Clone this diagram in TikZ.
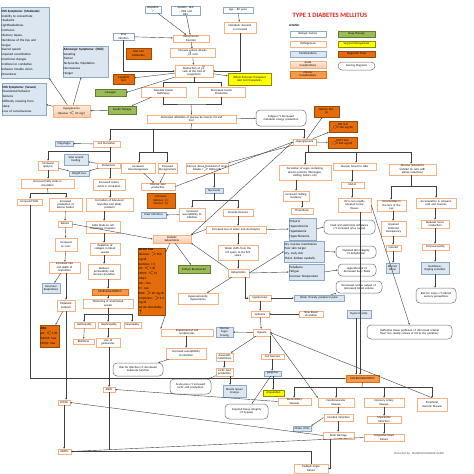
\documentclass[tikz,border=0pt]{standalone}
\usepackage{fontspec}
\setmainfont{Carlito}
\usetikzlibrary{arrows.meta,calc}
\definecolor{biob}{HTML}{8EA9C8}
\definecolor{pathob}{HTML}{F4B183}
\definecolor{manb}{HTML}{8EA9C8}
\definecolor{manf}{HTML}{DCE6F1}
\definecolor{acuteb}{HTML}{F4B183}
\definecolor{acutet}{HTML}{FDEBDD}
\definecolor{acutebt}{HTML}{F9C9A5}
\definecolor{chrb}{HTML}{E46C0A}
\definecolor{chrf}{HTML}{F59A4C}
\definecolor{diagb}{HTML}{9C4A08}
\definecolor{diagf}{HTML}{E46C0A}
\definecolor{drugb}{HTML}{5F7F2E}
\definecolor{drugf}{HTML}{9BBB59}
\definecolor{surgb}{HTML}{8C8C00}
\definecolor{surgf}{HTML}{FFFF00}
\definecolor{nurb}{HTML}{707070}
\definecolor{linec}{HTML}{404040}
\definecolor{titlec}{HTML}{E0201B}
\newcommand\fs{\fontsize{2.9}{3.35}\selectfont}
\newcommand\fl{\fontsize{3.2}{4.85}\selectfont}
\newcommand{\bx}[7]{%
 \pgfmathsetmacro\bxh{#6-#4}%
 \pgfmathsetmacro\bxcx{(#3+#5)/2}%
 \pgfmathsetmacro\bxcy{(#4+#6)/2}%
 \pgfmathsetmacro\bxtw{max(#5-#3-1.2,1)}%
 \node[#1, text width=\bxtw pt, minimum height=\bxh pt] (#2) at (\bxcx,\bxcy) {#7};}
\tikzset{
 base/.style={draw, line width=0.5pt, inner xsep=0.6pt, inner ysep=0.3pt, font=\fs, align=center, text=black},
 bio/.style={base, draw=biob, fill=white},
 patho/.style={base, draw=pathob, fill=white},
 manif/.style={base, draw=manb, fill=manf},
 acute/.style={base, draw=acuteb, top color=acutet, bottom color=acutebt},
 chronic/.style={base, draw=chrb, fill=chrf},
 diag/.style={base, draw=diagb, fill=diagf},
 drug/.style={base, draw=drugb, fill=drugf},
 surg/.style={base, draw=surgb, fill=surgf},
 nurse/.style={base, draw=nurb, fill=white, rounded corners=4pt},
 lst/.style={align=left, font=\fl},
 arr/.style={-{Stealth[length=1.8pt,width=1.5pt]}, line width=0.4pt, draw=linec},
 ln/.style={line width=0.4pt, draw=linec},
}
\begin{document}
\begin{tikzpicture}[x=1pt,y=-1pt]
\useasboundingbox[fill=white] (0,0) rectangle (474,474);
% ---------- title & legend
\node[font=\fontsize{6.6}{7}\selectfont\bfseries, text=titlec, inner sep=0] (title) at (330,15) {TYPE 1 DIABETES MELLITUS};
\node[font=\fs\bfseries, anchor=west, inner sep=0] (legend) at (289,26) {LEGEND:};
\bx{bio}{lg1}{290}{31}{326}{37}{Biologic Factors}
\bx{patho}{lg2}{290}{41}{326}{47}{Pathogenesis}
\bx{manif}{lg3}{290}{51}{326}{57}{Manifestations}
\bx{acute}{lg4}{290}{61}{326}{68}{Acute\\Complications}
\bx{chronic}{lg5}{290}{71}{326}{78}{Chronic\\Complications}
\bx{drug}{lg6}{338}{31}{375}{37}{Drug Therapy}
\bx{surg}{lg7}{338}{41}{375}{47}{Surgical Management}
\bx{diag}{lg8}{338}{51}{375}{57}{Diagnostic Tests}
\bx{nurse}{lg9}{338}{62}{375}{70}{Nursing Diagnosis}
% ---------- top
\bx{bio}{idio}{145}{6}{161}{13}{Idiopathic\\?}
\bx{bio}{genetic}{171}{7}{200}{15}{Genetic: HLA -- DR3 and\\DR4}
\bx{bio}{age}{223}{7}{253}{13}{Age -- 80 years}
\bx{bio}{viral}{113}{33}{134}{40}{Viral\\infection}
\bx{patho}{metab}{224}{22}{256}{33}{Metabolic demand\\is increased}
\bx{patho}{autoimm}{173}{35}{209}{42}{Autoimmune\\Disorder}
\bx{diag}{ica}{126}{48}{151}{59}{Islet Cell\\Antibodies}
\bx{patho}{immune}{170}{49}{215}{57}{Immune system attacks\\$\beta$ cells}
\bx{patho}{destr}{175}{65}{213}{77}{Destruction of $\beta$\\cells of the islet of\\Langerhans}
\bx{diag}{cpep}{113}{74}{134}{84}{C-peptide\\test}
\bx{surg}{transpl}{228}{73}{271}{85}{Whole Pancreas Transplant\\Islet Cell Transplants}
\bx{drug}{glucag}{95}{89}{126}{96}{Glucagon}
\bx{drug}{insulin}{108}{106}{136}{114}{Insulin Therapy}
\bx{patho}{absol}{141}{87}{186}{97}{Absolute Insulin\\Deficiency}
\bx{patho}{decins}{198}{87}{245}{97}{Decreased Insulin\\Production}
\bx{patho}{decutil}{147}{115}{236}{123}{Decreased utilization of glucose by muscle, fat and\\liver}
\bx{nurse}{fatigue}{256}{110}{306}{126}{Fatigue r/t decreased\\metabolic energy production}
% ---------- hypoglycemia
\bx{manif,lst}{cnsmod}{1}{7}{49}{78}{\textbf{CNS Symptoms: (Moderate)}\\Inability to concentrate\\Headache\\Lightheadedness\\Confusion\\Memory lapses,\\Numbness of the lips and\\tongue\\Slurred speech\\Impaired coordination\\Emotional changes\\Irrational or combative\\behavior, Double vision\\Drowsiness}
\bx{manif,lst}{adren}{63}{46}{108}{77}{\textbf{Adrenergic Symptoms: (Mild)}\\Sweating\\Tremor\\Tachycardia, Palpitation\\Nervousness\\Hunger}
\bx{manif,lst}{cnssev}{2}{83}{46}{115}{\textbf{CNS Symptoms: (Severe)}\\Disoriented behavior\\Seizures\\Difficulty arousing from\\sleep\\Loss of consciousness}
\bx{acute}{hypo}{53}{105}{90}{117}{Hypoglycemia\\(Glucose $<$ 60 mg/)}
% ---------- hyperglycemia & tests
\bx{patho}{hyperg}{293}{139}{316}{145}{Hyperglycemia}
\bx{diag}{ketone}{314}{106}{339}{117}{Ketone Test\\(+)}
\bx{diag}{fbs}{329}{121}{357}{132}{FBS Test\\($>$126 mg/dl)}
\bx{diag}{ogtt}{328}{137}{357}{148}{OGTT Test\\($>$200 mg/dl)}
% ---------- left column
\bx{patho}{cellstarv}{93}{141}{120}{147}{Cell Starvation}
\bx{manif}{polyph}{55}{141}{73}{146}{Polyphagia}
\bx{manif}{slowwound}{64}{154}{88}{165}{Slow wound\\healing}
\bx{patho}{lipol}{38}{161}{58}{170}{Increased\\lipolysis}
\bx{manif}{wtloss}{69}{171}{89}{176}{Weight loss}
\bx{patho}{proteol}{97}{163}{120}{168}{Proteolysis}
\bx{patho}{fatty}{21}{179}{74}{188}{Increased Fatty Acids in\\circulation}
\bx{patho}{amino}{93}{179}{125}{190}{Increased Amino\\Acids in circulation}
\bx{patho}{vldl}{17}{199}{42}{205}{Increased VLDL}
\bx{patho}{ketprod}{49}{198}{82}{211}{Increased\\production of\\ketone bodies}
\bx{patho}{agef}{86}{198}{133}{211}{Formation of Advanced\\Glycation End (AGE)\\products}
\bx{patho}{ketosis}{58}{221}{72}{227}{Ketosis}
\bx{patho}{hplus}{55}{238}{77}{251}{Increased\\H+ ions}
\bx{patho}{resp}{49}{262}{80}{273}{Increased rate\\and depth of\\respiration}
\bx{manif}{kussmaul}{42}{283}{60}{293}{Kussmaul\\Respirations}
\bx{patho}{metacid}{57}{300}{75}{311}{Metabolic\\Acidosis}
\bx{diag,lst}{abg}{40}{325}{59}{347}{\textbf{ABG}\\pH: $<$7.35\\PaCO2: low\\HCO3: low}
\bx{patho}{agebind}{86}{221}{120}{233}{AGEs binds to cell\\membrane receptors}
\bx{patho}{collagen}{90}{243}{120}{255}{Depletion of\\collagen in blood\\vessels}
\bx{patho}{perm}{88}{264}{120}{279}{Reduces\\permeability and\\normal circulation}
\bx{chronic}{micro}{92}{289}{128}{295}{MICROANGIOPATHY}
\bx{patho}{thick}{83}{299}{133}{308}{Thickening of small blood\\vessels}
\bx{patho}{retino}{74}{322}{95}{328}{Retinopathy}
\bx{patho}{nephro}{98}{322}{120}{328}{Nephropathy}
\bx{patho}{neuro}{124}{322}{141}{328}{Neuropathy}
\bx{patho}{blind}{73}{339}{94}{344}{Blindness}
\bx{patho}{glom}{96}{338}{120}{347}{Loss of\\glomerulus}
\bx{patho}{esrd}{103}{387}{115}{392}{ESRD}
\bx{patho}{coma}{58}{400}{70}{405}{COMA}
\bx{patho}{death}{58}{449}{71}{454}{DEATH}
% ---------- centre
\bx{patho}{gluconeo}{121}{163}{155}{173}{Increased\\Gluconeogenesis}
\bx{patho}{glycogen}{158}{163}{177}{173}{Increased\\Glycogenolysis}
\bx{patho}{overprod}{141}{183}{175}{190}{Glucose over\\production}
\bx{patho}{threshold}{186}{163}{228}{173}{Glucose above threshold of renal\\tubules ($>$180mg/dl)}
\bx{diag}{urin}{147}{193}{175}{208}{Urinalysis:\\Ketones: (+)\\Glucose: (+)}
\bx{manif}{glycosuria}{205}{188}{223}{193}{Glycosuria}
\bx{patho}{suscept1}{179}{208}{205}{221}{Increased\\susceptibility to\\infection}
\bx{manif}{yeast}{141}{212}{166}{218}{Yeast Infections}
\bx{patho}{osmotic}{223}{209}{253}{216}{Osmotic Diuresis}
\bx{patho}{waterloss}{206}{226}{266}{233}{Increased loss of water and electrolytes}
\bx{acute}{dka}{153}{235}{191}{243}{Diabetic\\ketoacidosis}
\bx{patho}{watershift}{218}{245}{258}{260}{Water shifts from the\\ICF space to the ECF\\space}
\bx{patho}{dehyd}{228}{269}{249}{277}{Dehydration}
\bx{diag,lst}{serum}{138}{255}{165}{308}{\textbf{Serum Test}\\Glucose: $>$250 mg/dl\\Ketones: (+)\\pH: $<$7.30\\HCO3: $<$15 mEq/L\\Na+: low\\K+: low\\BUN: $>$20 mg/dl\\Creatinine: $>$1.5 mg/dl\\Serum Osmolality: $\uparrow$}
\bx{drug}{nahco}{178}{265}{210}{273}{Sodium Bicarbonate}
\bx{patho}{hyperosm}{178}{293}{218}{304}{Hyperosmolarity\\Hypovolemia}
\bx{patho}{hypotens}{249}{295}{271}{301}{Hypotension}
\bx{patho}{ischemia}{251}{311}{269}{317}{Ischemia}
\bx{patho}{impair}{161}{329}{213}{336}{Impairment of cell\\lymphocytes}
\bx{patho}{suscept2}{166}{348}{206}{359}{Increased susceptibility\\to infection}
\bx{nurse}{riskinf}{113}{363}{163}{376}{Risk for infection r/t decreased\\leukocyte function}
\bx{manif}{sugar}{216}{328}{233}{336}{Glucose\\Sugar Craving}
\bx{patho}{anaer}{216}{353}{233}{361}{Anaerobic\\metabolism}
\bx{patho}{lactic}{216}{368}{233}{376}{Lactic Acid\\production}
\bx{nurse}{pain}{170}{379}{211}{394}{Acute pain r/t increased\\lactic acid production}
\bx{manif}{cramps}{223}{385}{246}{397}{Muscle Spasm\\Cramps}
\bx{nurse}{tissue}{225}{404}{268}{419}{Impaired tissue integrity\\r/t hypoxia}
\bx{patho}{hypoxia}{253}{329}{270}{336}{Hypoxia}
\bx{patho}{necrosis}{261}{354}{284}{359}{Cell Necrosis}
\bx{manif}{gangrene}{264}{371}{281}{376}{gangrene}
\bx{surg}{amput}{263}{390}{284}{396}{Amputation}
% ---------- right
\bx{patho}{plasma}{279}{165}{331}{180}{Formation of sugar containing\\plasma proteins (fibrinogen,\\clotting factors, etc)}
\bx{patho}{hba}{333}{163}{376}{170}{Glucose bound to HbA}
\bx{patho}{hbaic}{341}{182}{364}{188}{HbA1c}
\bx{patho}{otwo}{338}{198}{371}{212}{O2 is less readily\\released to the\\tissues}
\bx{patho}{sorbitol}{389}{164}{436}{175}{Glucose reduced to\\Sorbitol (in cells with\\aldose reductase)}
\bx{patho}{lens}{377}{200}{406}{211}{Accumulates in\\the lens of the\\eye}
\bx{patho}{schwann}{416}{198}{456}{208}{Accumulation in schwann\\cells and neurons}
\bx{patho}{lenticular}{381}{221}{406}{236}{Impaired\\lenticular\\transparency}
\bx{patho}{cataract}{386}{245}{401}{251}{Cataract}
\bx{manif}{blurred}{386}{263}{399}{273}{Blurred\\Vision}
\bx{patho}{nerve}{421}{220}{449}{228}{Reduced nerve\\conduction}
\bx{patho}{polyneuro}{422}{244}{449}{250}{Polyneuropathy}
\bx{manif}{numb}{421}{262}{449}{274}{Numbness,\\tingling sensation}
\bx{nurse}{injury}{416}{288}{456}{303}{Risk for injury r/t altered\\sensory perceptions}
\bx{patho}{clotting}{283}{191}{309}{201}{Increased clotting\\tendency}
\bx{patho}{thromb}{291}{208}{313}{214}{Thrombosis}
\bx{manif,lst}{mfa}{289}{218}{316}{240}{Polyuria\\Hyponatremia\\Hypokalemia\\Hypochloremia}
\bx{manif,lst}{mfb}{284}{241}{324}{262}{Dry mucous membranes\\Poor skin turgor\\Dry, scaly skin\\Thirst, Sunken eyeballs}
\bx{manif,lst}{mfc}{289}{264}{324}{280}{Polydipsia\\Fatigue\\Increase Temperature}
\bx{nurse}{fluidnd}{324}{220}{375}{234}{Fluid and electrolyte imbalance\\r/t increased urine output}
\bx{nurse}{skinnd}{336}{246}{376}{258}{Impaired skin integrity\\r/t dehydration}
\bx{nurse}{thermnd}{338}{264}{376}{276}{Hyperthermia r/t\\decreased body fluids}
\bx{nurse}{cardnd}{336}{281}{382}{293}{Decreased cardiac output r/t\\decreased blood volume}
\bx{manif}{pulse}{294}{295}{344}{301}{Weak, thready peripheral pulse}
\bx{patho}{slowblood}{299}{311}{323}{317}{Slow blood circulation}
\bx{manif}{hypervis}{347}{310}{371}{318}{Hyperviscosity}
\bx{nurse}{perfusion}{367}{325}{452}{339}{Ineffective tissue perfusion r/t decreased arterial\\flow/ less readily release of O2 to the periphery}
\bx{chronic}{macro}{346}{375}{379}{382}{MACROANGIOPATHY}
\bx{patho}{renal}{278}{398}{311}{405}{Renal Artery\\Stenosis}
\bx{patho}{cerebro}{318}{398}{354}{407}{Cerebrovascular\\Disease}
\bx{patho}{infarct}{324}{414}{353}{421}{Cerebral Infarction}
\bx{manif}{stroke}{293}{426}{311}{431}{Stroke (CVA)}
\bx{patho}{brain}{323}{432}{354}{439}{Brain Damage}
\bx{patho}{mof}{294}{464}{328}{473}{Multiple Organ\\Failure}
\bx{patho}{cad}{364}{398}{404}{407}{Coronary Artery\\Disease}
\bx{patho}{pvd}{417}{398}{447}{411}{Peripheral\\Vascular Disease}
\bx{patho}{mi}{367}{416}{401}{423}{Myocardial\\infarction}
\bx{patho}{chf}{364}{434}{404}{441}{Congestive Heart\\Failure}
\node[font=\fs, anchor=west, inner sep=0, text=black!70] (credit) at (394,454) {Presented by: \ MANIEYAH GRANDE IGURO};
% ---------- connectors
\draw[arr] (idio) -- (autoimm);
\draw[arr] (genetic) -- (autoimm);
\draw[arr] (age) -- (metab);
\draw[arr] (viral) -- (autoimm);
\draw[arr] (viral.south) |- (destr.west);
\draw[arr] (metab.south -| 240,0) |- (destr.east);
\draw[arr] (autoimm) -- (immune);
\draw[arr] (immune) -- (destr);
\draw[arr] (destr) -- (cpep);
\draw[arr] (destr) -- (transpl);
\draw[arr] (destr) -- (glucag.east);
\draw[ln] (destr.south) -- (194,82) -| (absol.north);
\draw[arr] (194,82) -| (decins.north);
\draw[ln] (absol.south) |- (191,104) -| (decins.south);
\draw[arr] (191,104) -- (decutil.north);
\draw[arr] (absol) -- (insulin);
\draw[arr] (insulin) -- (hypo);
\draw[arr] (hypo) -- (cnsmod);
\draw[arr] (hypo) -- (adren);
\draw[arr] (hypo) -- (cnssev);
\draw[arr] (decutil) -- (fatigue);
\draw[ln] (decutil.south) -- (191,129);
\draw[arr] (191,129) -| (cellstarv.north -| 110,0);
\draw[arr] (191,129) -| (hyperg.north -| 304,0);
\draw[ln] (153,129) -- (153,152);
\draw[ln] (139,152) -- (167,152);
\draw[arr] (139,152) -- (gluconeo.north -| 139,0);
\draw[arr] (167,152) -- (glycogen.north -| 167,0);
\draw[arr] (gluconeo) -- (overprod);
\draw[arr] (glycogen) -- (overprod);
\draw[arr] (overprod.east) -- (hyperg.west);
\draw[arr] (cellstarv) -- (polyph);
\draw[ln] (cellstarv.south -| 110,0) -- (110,151);
\draw[ln] (48,151) -- (110,151);
\draw[arr] (48,151) -- (lipol.north);
\draw[arr] (110,151) -- (proteol.north -| 110,0);
\draw[arr] (proteol) -- (slowwound);
\draw[arr] (proteol) -- (wtloss);
\draw[arr] (lipol) -- (wtloss);
\draw[arr] (lipol) -- (fatty.north -| lipol);
\draw[arr] (proteol.south -| 110,0) -- (amino.north -| 110,0);
\draw[ln] (fatty.south) -- (48,193);
\draw[ln] (30,193) -- (66,193);
\draw[arr] (30,193) -- (vldl.north -| 30,0);
\draw[arr] (66,193) -- (ketprod.north -| 66,0);
\draw[arr] (amino.south -| 110,0) -- (agef.north -| 110,0);
\draw[arr] (ketprod) -- (ketosis);
\draw[arr] (ketosis) -- (hplus);
\draw[arr] (hplus) -- (resp);
\draw[arr] (resp.south -| 66,0) -- (metacid.north -| 66,0);
\draw[arr] (resp) -- (kussmaul);
\draw[arr] (ketosis.east) -- (dka.west);
\draw[arr] (metacid) -- (abg);
\draw[arr] (metacid.south -| 66,0) -- (coma.north -| 66,0);
\draw[arr] (coma.south -| 64,0) -- (death.north -| 64,0);
\draw[arr] (vldl.south -| 30,0) |- (macro.west);
\draw[arr] (agef.south -| 104,0) -- (agebind.north -| 104,0);
\draw[arr] (agebind.south -| 104,0) -- (collagen.north -| 104,0);
\draw[arr] (collagen.south -| 104,0) -- (perm.north -| 104,0);
\draw[arr] (perm.south -| 108,0) -- (micro.north -| 108,0);
\draw[arr] (micro.south -| 108,0) -- (thick.north -| 108,0);
\draw[ln] (thick.south -| 108,0) -- (108,314);
\draw[ln] (84,314) -- (132,314);
\draw[arr] (84,314) -- (retino.north -| 84,0);
\draw[arr] (108,314) -- (nephro.north -| 108,0);
\draw[arr] (132,314) -- (neuro.north -| 132,0);
\draw[arr] (retino) -- (blind);
\draw[arr] (nephro.south -| 108,0) -- (glom.north -| 108,0);
\draw[arr] (glom.south -| 109,0) -- (esrd.north -| 109,0);
\draw[ln] (esrd.south -| 109,0) -- (109,450);
\draw[arr] (mof.north) |- (death.east);
\draw[arr] (chf.west) -- (death.east);
\draw[arr] (renal.west) -- (esrd.east);
\draw[arr] (brain.west) -- (coma.east);
\draw[arr] (hyperg) -- (ketone);
\draw[arr] (hyperg) -- (fbs);
\draw[arr] (hyperg) -- (ogtt);
\draw[ln] (hyperg.south -| 308,0) -- (308,152);
\draw[ln] (305,152) -- (411,152);
\draw[arr] (305,152) -- (plasma.north -| 305,0);
\draw[arr] (356,152) -- (hba.north -| 356,0);
\draw[arr] (411,152) -- (sorbitol.north -| 411,0);
\draw[arr] (hyperg.west) -- (dka.north east);
\draw[arr] (hyperg.south west) -- (threshold.north east);
\draw[arr] (threshold.south -| 214,0) -- (glycosuria.north -| 214,0);
\draw[ln] (glycosuria.south -| 214,0) -- (214,200);
\draw[ln] (192,200) -- (238,200);
\draw[arr] (192,200) -- (suscept1.north -| 192,0);
\draw[arr] (238,200) -- (osmotic.north -| 238,0);
\draw[arr] (suscept1) -- (yeast);
\draw[arr] (osmotic.south -| 238,0) -- (waterloss.north -| 238,0);
\draw[arr] (waterloss.west) -- (dka.north east);
\draw[arr] (waterloss.south -| 238,0) -- (watershift.north -| 238,0);
\draw[arr] (watershift.south -| 238,0) -- (dehyd.north -| 238,0);
\draw[arr] (dehyd.north west) -- (dka.south east);
\draw[arr] (dka) -- (serum);
\draw[arr] (dka) -- (nahco);
\draw[arr] (dehyd) -- (hyperosm);
\draw[arr] (dehyd.south -| 245,0) |- (hypotens.west);
\draw[arr] (dehyd.east) -- (mfb.west);
\draw[arr] (dehyd.east) -- (mfc.west);
\draw[arr] (waterloss.east) -- (mfa.west);
\draw[arr] (mfa.east) -- (fluidnd.west);
\draw[arr] (mfb.east) -- (skinnd.west);
\draw[arr] (mfc.east) -- (thermnd.west);
\draw[arr] (hypotens) -- (pulse);
\draw[arr] (pulse) -- (cardnd);
\draw[arr] (hypotens.south) -- (ischemia.north);
\draw[arr] (ischemia) -- (hypoxia);
\draw[arr] (plasma.south -| 296,0) -- (clotting.north -| 296,0);
\draw[arr] (clotting.south -| 302,0) -- (thromb.north -| 302,0);
\draw[arr] (slowblood) -- (ischemia);
\draw[arr] (hba.south -| 352,0) -- (hbaic.north -| 352,0);
\draw[arr] (hbaic.south -| 352,0) -- (otwo.north -| 352,0);
\draw[arr] (otwo.south -| 360,0) -- (macro.north -| 360,0);
\draw[arr] (hypervis.south -| 356,0) -- (macro.north -| 356,0);
\draw[arr] (otwo.east) -- (perfusion.north);
\draw[ln] (sorbitol.south -| 411,0) -- (411,186);
\draw[ln] (391,186) -- (436,186);
\draw[arr] (391,186) -- (lens.north -| 391,0);
\draw[arr] (436,186) -- (schwann.north -| 436,0);
\draw[arr] (lens.south -| 393,0) -- (lenticular.north -| 393,0);
\draw[arr] (lenticular.south -| 393,0) -- (cataract.north -| 393,0);
\draw[arr] (cataract.south -| 393,0) -- (blurred.north -| 393,0);
\draw[arr] (schwann.south -| 435,0) -- (nerve.north -| 435,0);
\draw[arr] (nerve.south -| 435,0) -- (polyneuro.north -| 435,0);
\draw[arr] (polyneuro.south -| 435,0) -- (numb.north -| 435,0);
\draw[arr] (numb.south -| 435,0) -- (injury.north -| 435,0);
\draw[arr] (serum.south east) -- (impair.north west);
\draw[arr] (impair.south -| 186,0) -- (suscept2.north -| 186,0);
\draw[arr] (suscept2) -- (riskinf);
\draw[arr] (hypoxia) -- (sugar);
\draw[arr] (hypoxia) -- (anaer);
\draw[arr] (anaer.south -| 224,0) -- (lactic.north -| 224,0);
\draw[arr] (lactic) -- (pain);
\draw[arr] (lactic.south -| 230,0) -- (cramps.north -| 230,0);
\draw[arr] (hypoxia.south -| 270,0) -- (necrosis.north -| 270,0);
\draw[arr] (necrosis.south -| 272,0) -- (gangrene.north -| 272,0);
\draw[arr] (gangrene.south -| 273,0) -- (amput.north -| 273,0);
\draw[arr] (gangrene) -- (tissue);
\draw[arr] (hypoxia.east) -- (cerebro.north west);
\draw[ln] (macro.south) -- (362,387);
\draw[ln] (294,387) -- (432,387);
\draw[arr] (294,387) -- (renal.north -| 294,0);
\draw[arr] (336,387) -- (cerebro.north -| 336,0);
\draw[arr] (384,387) -- (cad.north -| 384,0);
\draw[arr] (432,387) -- (pvd.north -| 432,0);
\draw[arr] (cerebro.south -| 338,0) -- (infarct.north -| 338,0);
\draw[arr] (infarct.south -| 338,0) -- (brain.north -| 338,0);
\draw[arr] (infarct.west) -- (stroke.north east);
\draw[arr] (cad.south -| 384,0) -- (mi.north -| 384,0);
\draw[arr] (mi.south -| 384,0) -- (chf.north -| 384,0);
\draw[arr] (brain.south -| 330,0) |- (mof.east);
\draw[arr] (pvd.north) -- (hypoxia.east);
\end{tikzpicture}
\end{document}
